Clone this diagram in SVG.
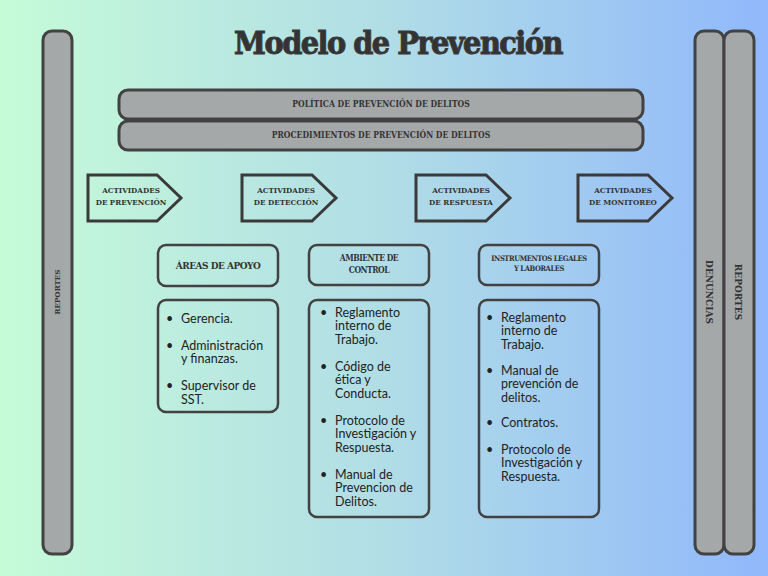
<svg xmlns="http://www.w3.org/2000/svg" width="768" height="576" viewBox="0 0 768 576">
<defs>
<linearGradient id="bg" x1="0" x2="1" y1="0" y2="0"><stop offset="0" stop-color="#c6fbd8"/><stop offset="0.5" stop-color="#b1dde6"/><stop offset="1" stop-color="#90b8fb"/></linearGradient>
<style>
.bar{fill:#a5a8a8;stroke:#424242;stroke-width:3}
.box{fill:none;stroke:#424242;stroke-width:2.5}
.arr{fill:none;stroke:#3a3a3a;stroke-width:3}
.h{font-family:"DejaVu Serif","Liberation Serif",serif;font-stretch:condensed;font-weight:bold;fill:#333;text-anchor:middle}
.t{font-family:"Lato","Noto Sans",sans-serif;font-size:12.5px;fill:#222}
</style>
</defs>
<rect width="768" height="576" fill="url(#bg)"/>
<text x="398" y="54" class="h" style="font-size:32px;letter-spacing:-1.5px" fill="#3a3a3a" stroke="#3a3a3a" stroke-width="1">Modelo de Prevención</text>
<g id="reportes-left"><rect x="43" y="31" width="29" height="523" rx="9" class="bar"/><text class="h" font-size="8" transform="translate(60,292) rotate(-90)">REPORTES</text></g>
<g id="denuncias"><rect x="695" y="31" width="29" height="523" rx="9" class="bar"/><text class="h" font-size="10" transform="translate(706,292) rotate(90)">DENUNCIAS</text></g>
<g id="reportes-right"><rect x="724" y="31" width="30" height="523" rx="9" class="bar"/><text class="h" font-size="10" transform="translate(735,292) rotate(90)">REPORTES</text></g>
<g id="politica"><rect x="119" y="90" width="524" height="29" rx="9" class="bar"/><text x="381" y="107" class="h" font-size="8.5">POLÍTICA DE PREVENCIÓN DE DELITOS</text></g>
<g id="procedimientos"><rect x="119" y="121" width="524" height="29" rx="9" class="bar"/><text x="381" y="138" class="h" font-size="8.5">PROCEDIMIENTOS DE PREVENCIÓN DE DELITOS</text></g>
<g id="a1"><path d="M88,175 H157 L181,198 L157,221 H88 Z" class="arr"/><text class="h" font-size="8"><tspan x="131" y="193">ACTIVIDADES</tspan><tspan x="131" y="205">DE PREVENCIÓN</tspan></text></g>
<g id="a2"><path d="M242,175 H312 L336,198 L312,221 H242 Z" class="arr"/><text class="h" font-size="8"><tspan x="286" y="193">ACTIVIDADES</tspan><tspan x="286" y="205">DE DETECCIÓN</tspan></text></g>
<g id="a3"><path d="M416,175 H486 L510,198 L486,221 H416 Z" class="arr"/><text class="h" font-size="8"><tspan x="461" y="193">ACTIVIDADES</tspan><tspan x="461" y="205">DE RESPUESTA</tspan></text></g>
<g id="a4"><path d="M578,175 H648 L672,198 L648,221 H578 Z" class="arr"/><text class="h" font-size="8"><tspan x="623" y="193">ACTIVIDADES</tspan><tspan x="623" y="205">DE MONITOREO</tspan></text></g>
<g id="h1"><rect x="158" y="245" width="120" height="41" rx="8" class="box"/><text x="218" y="269" class="h" font-size="10" letter-spacing="-0.5">ÁREAS DE APOYO</text></g>
<g id="h2"><rect x="309" y="245" width="120" height="40" rx="8" class="box"/><text class="h" font-size="8.5" letter-spacing="-0.5"><tspan x="369" y="261">AMBIENTE DE</tspan><tspan x="369" y="273">CONTROL</tspan></text></g>
<g id="h3"><rect x="479" y="245" width="120" height="40" rx="8" class="box"/><text class="h" font-size="7.5" letter-spacing="-0.4"><tspan x="539" y="261">INSTRUMENTOS LEGALES</tspan><tspan x="539" y="271">Y LABORALES</tspan></text></g>
<g id="l1"><rect x="158" y="300" width="120" height="112" rx="8" class="box"/>
<text class="t"><tspan x="166" y="323">•</tspan><tspan x="181" y="323">Gerencia.</tspan><tspan x="166" y="350">•</tspan><tspan x="181" y="350">Administración</tspan><tspan x="181" y="363">y finanzas.</tspan><tspan x="166" y="390">•</tspan><tspan x="181" y="390">Supervisor de</tspan><tspan x="181" y="404">SST.</tspan></text></g>
<g id="l2"><rect x="309" y="300" width="120" height="217" rx="8" class="box"/>
<text class="t"><tspan x="320" y="317">•</tspan><tspan x="335" y="317">Reglamento</tspan><tspan x="335" y="330">interno de</tspan><tspan x="335" y="344">Trabajo.</tspan><tspan x="320" y="371">•</tspan><tspan x="335" y="371">Código de</tspan><tspan x="335" y="384">ética y</tspan><tspan x="335" y="398">Conducta.</tspan><tspan x="320" y="425">•</tspan><tspan x="335" y="425">Protocolo de</tspan><tspan x="335" y="438">Investigación y</tspan><tspan x="335" y="452">Respuesta.</tspan><tspan x="320" y="479">•</tspan><tspan x="335" y="479">Manual de</tspan><tspan x="335" y="492">Prevencion de</tspan><tspan x="335" y="506">Delitos.</tspan></text></g>
<g id="l3"><rect x="479" y="300" width="120" height="217" rx="8" class="box"/>
<text class="t"><tspan x="486" y="322">•</tspan><tspan x="501" y="322">Reglamento</tspan><tspan x="501" y="335">interno de</tspan><tspan x="501" y="349">Trabajo.</tspan><tspan x="486" y="375">•</tspan><tspan x="501" y="375">Manual de</tspan><tspan x="501" y="388">prevención de</tspan><tspan x="501" y="402">delitos.</tspan><tspan x="486" y="427">•</tspan><tspan x="501" y="427">Contratos.</tspan><tspan x="486" y="454">•</tspan><tspan x="501" y="454">Protocolo de</tspan><tspan x="501" y="467">Investigación y</tspan><tspan x="501" y="481">Respuesta.</tspan></text></g>
<g id="connectors"/>
</svg>
